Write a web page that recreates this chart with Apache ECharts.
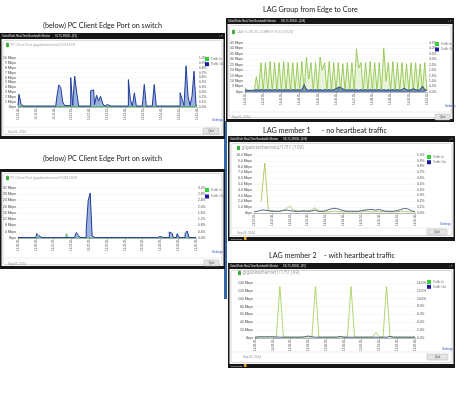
<!DOCTYPE html>
<html>
<head>
<meta charset="utf-8">
<script src="https://cdn.jsdelivr.net/npm/echarts@6/dist/echarts.min.js"></script>
<style>
html,body{margin:0;padding:0;background:#fff;}
#main{width:474px;height:398px;}
</style>
</head>
<body>
<div id="main"></div>
<script>
// ---- data (Mbps) ----
var pcOut1 = [0.3,2.6,0.7,0.2,0.2,0.2,0.2,0.2,0.2,0.2,
  0.2,0.2,0.2,0.2,0.2,0.2,0.2,0.2,0.2,0.2,
  2.0,4.5,4.0,1.0,0.3,0.3,0.3,6.0,0.3,6.3,
  3.0,0.2,0.2,0.2,0.2,0.2,0.2,3.3,3.5,0.5,
  2.4,1.2,2.2,0.8,0.2,0.5,0.2,0.2,0.2,0.2,
  0.2,0.2,0.2,0.2,0.2,0.2,5.6,1.5,0.2,2.9,
  0.2,0.2,0.2,0.2,4.6,0.2,0.2,0.2,0.2,4.6,
  0.2,0.2,0.2,0.2,0.2,0.2,0.2,0.2,0.2,0.2,
  0.2,0.2,2.9,1.6,0.3,8.4,2.2,0.3,2.2,7.3,
  0.3];
var pcIn1 = [0.1,0.1,0.1,0.1,0.1,0.1,0.1,0.1,0.1,0.1,
  0.1,0.1,0.1,0.1,0.1,0.1,0.1,0.1,0.1,0.1,
  0.1,0.1,0.1,0.1,0.1,0.1,0.1,0.1,0.1,0.1,
  0.1,0.1,0.1,0.1,0.1,0.1,0.1,0.1,0.1,0.1,
  0.1,0.1,0.1,0.1,0.1,0.1,0.1,0.1,0.1,0.1,
  0.1,0.1,0.1,0.1,0.1,0.1,0.1,0.1,0.1,0.1,
  0.1,0.1,0.1,0.1,0.1,0.1,0.1,0.1,0.1,0.1,
  0.1,0.1,0.1,0.1,0.1,0.1,0.1,0.1,0.1,0.1,
  0.1,0.1,0.1,0.1,0.1,0.1,0.1,0.1,0.1,0.1,
  0.1];

var pcOut2 = [0.3,0.3,0.3,0.3,0.3,0.3,0.3,0.3,0.3,0.3,
  2.8,1.5,0.3,0.3,0.3,0.3,0.3,0.3,0.3,0.3,
  0.3,0.3,0.3,0.3,0.3,0.3,0.3,0.3,0.3,0.3,
  3.5,1.7,0.3,0.3,0.3,6.0,24,28.8,1.2,0.3,
  0.3,0.3,0.3,0.3,0.3,0.3,0.3,0.3,0.3,0.3,
  0.3,0.3,0.3,0.3,0.3,0.3,0.3,0.3,0.3,1.3,
  0.3,0.3,0.3,0.3,0.3,0.3,0.3,0.3,0.3,0.3,
  0.3,0.3,1.0,0.3,0.3,0.3,0.3,3.9,2.8,0.3,
  0.3,2.8,0.3,0.3,0.3,2.8,4.5,0.3,0.3,0.3,
  0.3];
var pcIn2 = [0.1,0.1,0.1,0.1,0.1,0.1,0.1,0.1,0.1,0.1,
  0.1,0.1,0.1,0.1,0.1,0.1,0.1,0.1,0.1,0.1,
  0.1,0.1,0.1,0.1,0.1,2.8,0.1,0.1,0.1,0.1,
  0.1,0.1,0.1,0.1,0.1,0.1,0.1,0.1,0.1,0.1,
  0.1,0.1,0.1,0.1,0.1,0.1,0.1,0.1,0.1,0.1,
  0.1,0.1,0.1,0.1,0.1,0.1,0.1,0.1,0.1,0.1,
  0.1,0.1,0.1,0.1,0.1,0.1,0.1,0.1,0.1,0.1,
  0.1,0.1,0.1,0.1,0.1,0.1,0.1,0.1,0.1,0.1,
  0.1,0.1,0.1,0.1,0.1,0.1,0.1,0.1,0.1,0.1,
  0.1];

var lagIn = [4,1,1,1,1,14,1,27,1,27,
  1,28,1,27,1,27,1,28,1,27,
  1,27,1,27,1,28,1,32,12,27,
  1,27,1,32,20,27,1,28,1,27,
  1,27,1,26,1,27,1,27,1,39.5,
  22,27,1,27,1,28,1,27,1,27,
  1,40,10,27,1,28,1,27,1,27,
  1,26,1,27,1,27,1,26,1,27,
  1];
var lagOut = [2.0,1.5,1.5,1.5,1.5,2.2,1.5,2.2,1.5,2.2,
  1.5,2.2,1.5,2.2,1.5,2.2,1.5,2.2,1.5,2.2,
  1.5,2.2,1.5,2.2,1.5,2.2,6.7,2.5,1.5,2.2,
  1.5,2.2,1.5,2.2,1.5,2.2,1.5,2.2,1.5,2.2,
  3.0,4.3,4.3,3.0,1.5,2.2,1.5,2.2,1.5,2.2,
  1.5,2.2,1.5,2.2,1.5,2.2,1.5,2.2,1.5,2.2,
  1.5,2.2,1.5,2.2,1.5,2.2,1.5,2.2,1.5,2.2,
  3.5,2.2,1.5,2.2,3.0,2.2,1.5,2.2,5.5,2.2,
  1.5];

var m1In = [null,null,2.0,8.6,0.5,0.4,0.3,0.3,0.4,0.7,
  1.2,0.5,0.3,0.3,0.2,0.3,0.5,0.9,0.4,0.2,
  0.2,0.2,0.3,0.3,0.2,0.2,0.2,0.2,0.2,0.2,
  0.2,0.3,0.3,0.2,0.2,0.2,0.2,0.2,0.2,0.2,
  0.2,0.3,0.3,0.2,0.2,0.2];
var m1Out = [0.2,0.3,0.5,0.5,0.4,0.3,0.3,0.3,0.4,0.5,
  0.4,0.3,0.3,0.3,0.4,0.3,0.3,0.5,0.3,0.3,
  0.4,0.6,0.8,0.8,0.6,0.4,0.3,0.3,0.3,0.3,
  0.4,0.5,0.6,0.6,0.5,0.6,0.4,0.3,0.3,0.3,
  0.4,0.6,0.8,0.7,0.4,0.2];

var m2In = [2.5,2.5,2.5,2.5,2.5,2.5,2.5,131,2.5,2.5,
  2.5,2.5,2.5,2.5,2.5,2.5,2.5,131,2.5,2.5,
  2.5,2.5,2.5,2.5,2.5,2.5,2.5,131,2.5,2.5,
  2.5,2.5,2.5,2.5,14,2.5,2.5,131,2.5,2.5,
  2.5,2.5,2.5,2.5,2.5,2.5];
var m2Out = [1.5,3,3,3,3,3,2.5,2,2,2,
  2,2,2,2,3,5,3,2,2,2,
  2,2,2,2,4,2,2,2,2,2,
  2,2,2,2,2,2,2,2,4,2,
  2,2,2,2,2,2];

// ---- tick labels ----
var mbps1 = ['0bps','1 Mbps','2 Mbps','3 Mbps','4 Mbps','5 Mbps','6 Mbps','7 Mbps','8 Mbps','9 Mbps','10 Mbps'];
var pct1 = ['0.0%','0.1%','0.2%','0.3%','0.4%','0.5%','0.6%','0.7%','0.8%','0.9%','1.0%'];
var mbps2 = ['0bps','4 Mbps','8 Mbps','12 Mbps','16 Mbps','20 Mbps','24 Mbps','28 Mbps','32 Mbps'];
var pct2 = ['0.0%','0.4%','0.8%','1.2%','1.6%','2.0%','2.4%','2.8%','3.2%'];
var mbps3 = ['0bps','5 Mbps','10 Mbps','15 Mbps','20 Mbps','25 Mbps','30 Mbps','35 Mbps','40 Mbps','45 Mbps'];
var pct3 = ['0.0%','0.5%','1.0%','1.5%','2.0%','2.5%','3.0%','3.5%','4.0%','4.5%'];
var mbps4 = ['0bps','1.0 Mbps','2.0 Mbps','3.0 Mbps','4.0 Mbps','5.0 Mbps','6.0 Mbps','7.0 Mbps','8.0 Mbps','9.0 Mbps','10.0 Mbps'];
var pct4 = ['0.0%','0.1%','0.2%','0.3%','0.4%','0.5%','0.6%','0.7%','0.8%','0.9%','1.0%'];
var mbps5 = ['0bps','20 Mbps','40 Mbps','60 Mbps','80 Mbps','100 Mbps','120 Mbps','140 Mbps'];
var pct5 = ['0.0%','2.0%','4.0%','6.0%','8.0%','10.0%','12.0%','14.0%'];

var times1 = ['15:10:40','15:11:10','15:11:40','15:12:10','15:12:40','15:13:10','15:13:40','15:14:10','15:14:40','15:15:10','15:15:40'];
var times2 = ['15:20:20','15:20:50','15:21:20','15:21:50','15:22:20','15:22:50','15:23:20','15:23:50','15:24:20','15:24:50','15:25:20'];
var times3 = ['14:41:05','14:42:05','14:43:05','14:44:05','14:45:05','14:46:05','14:47:05','14:48:05','14:49:05','14:50:05','14:51:05'];
var times4 = ['14:52:10','14:52:40','14:53:10','14:53:40','14:54:10','14:54:40','14:55:10','14:55:40','14:56:10','14:56:40'];
var times5 = ['14:58:20','14:58:50','14:59:20','14:59:50','15:00:20','15:00:50','15:01:20','15:01:50','15:02:20','15:02:50'];

// ---- layout ----
var panels = [
  {grid:{left:17, top:58, width:180, height:49}, max:10, step:1, yL:mbps1, yR:pct1, xT:times1, every:9, inn:pcIn1, out:pcOut1, stepLine:'middle',
   inC:['#3ab54a','rgba(150,220,140,0.8)'], outC:['#1f3d98','rgba(140,165,220,0.85)'], leg:{left:205, top:57, gap:1.2}},
  {grid:{left:17, top:188, width:179, height:50}, max:32, step:4, yL:mbps2, yR:pct2, xT:times2, every:9, inn:pcIn2, out:pcOut2, stepLine:'middle',
   inC:['#3ab54a','rgba(150,220,140,0.8)'], outC:['#1f3d98','rgba(140,165,220,0.85)'], leg:{left:205, top:188, gap:2.5}},
  {grid:{left:245, top:43, width:182, height:49}, max:45, step:5, yL:mbps3, yR:pct3, xT:times3, every:8, inn:lagIn, out:lagOut, stepLine:false,
   inC:['#86c23a','rgba(215,236,185,0.55)'], outC:['#1b3a8f','rgba(70,100,180,0.8)'], leg:{left:435, top:42, gap:1.5}},
  {grid:{left:254, top:155, width:161, height:58}, max:10, step:1, yL:mbps4, yR:pct4, xT:times4, every:5, inn:m1In, out:m1Out, stepLine:false,
   inC:['#9fbf45',null], outC:['#3a5580',null], leg:{left:427, top:155, gap:1.2}},
  {grid:{left:255, top:283, width:160, height:55}, max:140, step:20, yL:mbps5, yR:pct5, xT:times5, every:5, inn:m2In, out:m2Out, stepLine:false,
   inC:['#a3cb50',null], outC:['#33507e',null], leg:{left:427, top:280, gap:0.8}}
];

var wins = [
  {x:0, y:33, w:225, h:106, bar:6, foot:3, text:'SolarWinds Real-Time Bandwidth Monitor       SI-TC-SW03 - [53]', head:'PC Client Port gigabitethernet2/1/53 (53)', hs:3.4, hx:6, hy:45, dx:8, dy:132, sep:127, qx:203, qy:128, qw:16, sx:212, sy:120},
  {x:0, y:169, w:225, h:100, bar:3, foot:3, text:'', head:'PC Client Port gigabitethernet2/1/49 (203)', hs:3.4, hx:6, hy:178, dx:8, dy:264, sep:258, qx:204, qy:260, qw:15, sx:212, sy:252},
  {x:226, y:18, w:228, h:104, bar:6, foot:3, text:'SolarWinds Real-Time Bandwidth Monitor       SS-TC-SW03 - [108]', head:'LAG To SS-TC-CORE01 Po5 [1000]', hs:3.7, hx:232, hy:32, dx:232, dy:117, sep:112, qx:435, qy:114, qw:15, sx:445, sy:106},
  {x:228, y:136, w:227, h:105, bar:6, foot:4, text:'SolarWinds Real-Time Bandwidth Monitor       SS-TC-SW03 - [109]', head:'gigabitethernet2/1/51 (109)', hs:4.8, hx:237, hy:148, dx:237, dy:233, sep:228, qx:427, qy:229, qw:20, sx:440, sy:224},
  {x:228, y:263, w:227, h:105, bar:6, foot:4, text:'SolarWinds Real-Time Bandwidth Monitor       SS-TC-SW03 - [99]', head:'gigabitethernet1/1/51 (99)', hs:4.6, hx:238, hy:273, dx:243, dy:357, sep:352, qx:427, qy:354, qw:21, sx:442, sy:349}
];

var graphics = [{type:'rect', z:-10, shape:{x:224, y:121, width:3, height:178}, style:{fill:'#3465ab'}}];
wins.forEach(function(w){
  graphics.push({type:'rect', z:-10, shape:{x:w.x, y:w.y, width:w.w, height:w.h}, style:{fill:'#171717'}});
  graphics.push({type:'rect', z:-9, shape:{x:w.x+1.5, y:w.y+w.bar, width:w.w-3, height:w.h-w.bar-w.foot}, style:{fill:'#f6f6f6'}});
  graphics.push({type:'rect', z:-8, shape:{x:w.x+3, y:w.y+w.bar+1.5, width:w.w-6, height:w.h-w.bar-w.foot-3, r:2.5}, style:{fill:'#fff', stroke:'#c8c8c8', lineWidth:0.6}});
  if (w.text) {
    graphics.push({type:'text', z:-7, style:{x:w.x+2, y:w.y+w.bar/2, text:w.text, fill:'#e0e0e0', fontSize:2.6, verticalAlign:'middle'}});
    graphics.push({type:'text', z:-7, style:{x:w.x+w.w-6, y:w.y+w.bar/2, text:'- \u00d7', fill:'#ccc', fontSize:3, verticalAlign:'middle'}});
  }
  graphics.push({type:'rect', z:-7, shape:{x:w.hx, y:w.hy-2.2, width:3, height:4.4, r:1}, style:{fill:'#3cae3c'}});
  graphics.push({type:'text', z:-7, style:{x:w.hx+4.5, y:w.hy, text:w.head, fill:'#a0a0a0', fontSize:w.hs, verticalAlign:'middle', fontFamily:'Noto Sans'}});
  graphics.push({type:'line', z:-7, shape:{x1:w.x+4, y1:w.sep, x2:w.x+w.w-4, y2:w.sep}, style:{stroke:'#e2e2e2', lineWidth:0.6}});
  graphics.push({type:'text', z:-7, style:{x:w.dx, y:w.dy, text:'Sep 05, 2014', fill:'#8a8a8a', fontSize:3, verticalAlign:'middle'}});
  graphics.push({type:'rect', z:-7, shape:{x:w.qx, y:w.qy, width:w.qw, height:6, r:0.8}, style:{fill:'#e4e4e4', stroke:'#b0b0b0', lineWidth:0.5}});
  graphics.push({type:'text', z:-6, style:{x:w.qx+w.qw/2, y:w.qy+3, text:'Quit', fill:'#444', fontSize:3, align:'center', verticalAlign:'middle'}});
  graphics.push({type:'text', z:-7, style:{x:w.sx, y:w.sy, text:'Settings', fill:'#3050c8', fontSize:3, verticalAlign:'middle'}});
  if (w.foot >= 4) {
    graphics.push({type:'text', z:-7, style:{x:w.x+3, y:w.y+w.h-2, text:'solarwinds', fill:'#ddd', fontSize:2.4, verticalAlign:'middle'}});
    graphics.push({type:'rect', z:-7, shape:{x:w.x+16, y:w.y+w.h-4, width:2.5, height:3}, style:{fill:'#f0a020'}});
  }
});

var captionStyle = {fontSize:7.2, fontWeight:'normal', fontFamily:'Lato', color:'#1a1a1a'};
var titles = [
  {text:'(below) PC Client Edge Port on switch', left:43, top:22},
  {text:'(below) PC Client Edge Port on switch', left:43, top:155},
  {text:'LAG Group from Edge to Core', left:263, top:6},
  {text:'LAG member 1      - no heartbeat traffic', left:263, top:127},
  {text:'LAG member 2    - with heartbeat traffic', left:269, top:252}
].map(function(t){ t.padding = 0; t.textStyle = captionStyle; return t; });

var grids = [], xAxes = [], yAxes = [], series = [], legends = [];
panels.forEach(function(p, i){
  grids.push(p.grid);
  xAxes.push({
    type:'category', gridIndex:i, boundaryGap:false,
    data: p.out.map(function(v, k){ return String(k); }),
    axisLine:{lineStyle:{color:'#8a8a8a', width:0.6}},
    axisTick:{interval:p.every-1, length:2, lineStyle:{color:'#8a8a8a', width:0.5}},
    axisLabel:{interval:p.every-1, rotate:90, fontSize:2.8, color:'#555', margin:2,
      formatter:function(v, k){ return p.xT[Math.round(k / p.every)]; }},
    splitLine:{show:false}
  });
  yAxes.push({
    type:'value', gridIndex:i, position:'left', min:0, max:p.max, interval:p.step,
    axisLine:{show:false}, axisTick:{show:false},
    axisLabel:{fontSize:3.4, color:'#444', margin:2, formatter:function(v){ return p.yL[Math.round(v / p.step)]; }},
    splitLine:{lineStyle:{color:'#f1f1f1', width:0.5}}
  });
  yAxes.push({
    type:'value', gridIndex:i, position:'right', min:0, max:p.max, interval:p.step,
    axisLine:{show:false}, axisTick:{show:false},
    axisLabel:{fontSize:3.2, color:'#444', margin:2, formatter:function(v){ return p.yR[Math.round(v / p.step)]; }},
    splitLine:{show:false}
  });
  series.push({
    name:'Traffic In', type:'line', xAxisIndex:i, yAxisIndex:i*2, data:p.inn, step:p.stepLine,
    symbol:'none', silent:true, lineStyle:{color:p.inC[0], width:0.8}, itemStyle:{color:p.inC[0]},
    areaStyle: p.inC[1] ? {color:p.inC[1], opacity:1} : null
  });
  series.push({
    name:'Traffic Out', type:'line', xAxisIndex:i, yAxisIndex:i*2, data:p.out, step:p.stepLine,
    symbol:'none', silent:true, lineStyle:{color:p.outC[0], width:p.stepLine ? 1 : 0.9}, itemStyle:{color:p.outC[0]},
    areaStyle: p.outC[1] ? {color:p.outC[1], opacity:1} : null
  });
  legends.push({
    orient:'vertical', left:p.leg.left, top:p.leg.top, padding:0, itemGap:p.leg.gap,
    itemWidth:4, itemHeight:4, icon:'rect', selectedMode:false,
    textStyle:{fontSize:2.8, color:'#666', padding:[0,0,0,-3]},
    data:[{name:'Traffic In', itemStyle:{color:'#33d133'}}, {name:'Traffic Out', itemStyle:{color:'#1c1ca0'}}]
  });
});

var option = {
  animation:false,
  backgroundColor:'#fff',
  title:titles,
  legend:legends,
  grid:grids,
  xAxis:xAxes,
  yAxis:yAxes,
  series:series,
  graphic:graphics
};

var chart = echarts.init(document.getElementById('main'));
chart.setOption(option);
</script>
</body>
</html>
